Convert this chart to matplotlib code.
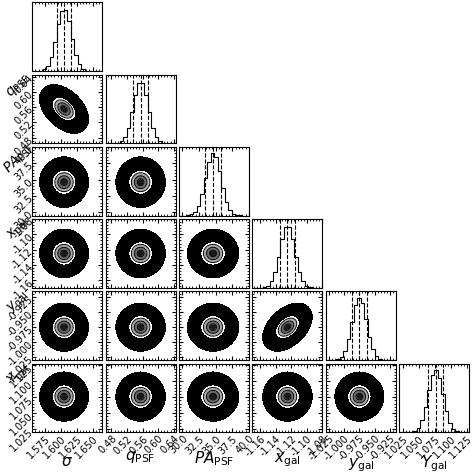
import numpy as np
import matplotlib
matplotlib.use("Agg")
import matplotlib.pyplot as plt
from matplotlib.ticker import AutoMinorLocator

labels = [r"$\sigma$", r"$q_{\rm PSF}$", r"$PA_{\rm PSF}$", r"$x_{\rm gal}$", r"$y_{\rm gal}$", r"$Y_{\rm gal}$"]
means = [1.605, 0.555, 34.6, -1.125, -0.975, 1.076]
stds = [0.0115, 0.019, 1.15, 0.0095, 0.012, 0.0115]
ranges = [(1.555, 1.665), (0.465, 0.645), (29.5, 40.0), (-1.17, -1.08), (-1.03, -0.915), (1.02, 1.128)]
ticks = [
    [1.575, 1.600, 1.625, 1.650],
    [0.48, 0.52, 0.56, 0.60, 0.64],
    [30.0, 32.5, 35.0, 37.5, 40.0],
    [-1.16, -1.14, -1.12, -1.10, -1.08],
    [-1.025, -1.000, -0.975, -0.950, -0.925],
    [1.025, 1.050, 1.075, 1.100, 1.125],
]
tickfmt = ["%.3f", "%.2f", "%.1f", "%.2f", "%.3f", "%.3f"]
# correlation coefficients between parameter pairs
corr = {(0, 1): -0.4, (3, 4): 0.4}

n = len(labels)
fig, axes = plt.subplots(n, n, figsize=(4.74, 4.74), dpi=100)
fig.subplots_adjust(left=0.068, right=0.99, bottom=0.088, top=0.995, wspace=0.05, hspace=0.05)

# contour bands in units of sigma, inner to outer, with fill colours
lv = [0, 0.45, 0.85, 1.25, 1.6, 3.5, 100]
fill_cols = ["#1a1a1a", "#6a6a6a", "#aaaaaa", "white", "black", "white"]

for i in range(n):
    for j in range(n):
        ax = axes[i, j]
        if j > i:
            ax.axis("off")
            continue
        if i == j:
            lo, hi = ranges[i]
            edges = np.linspace(lo, hi, 21)
            c = 0.5 * (edges[1:] + edges[:-1])
            h = np.exp(-0.5 * ((c - means[i]) / stds[i]) ** 2)
            ax.step(edges, np.r_[h, h[-1]], where="post", color="k", lw=0.8)
            for q in (-1, 0, 1):
                ax.axvline(means[i] + q * stds[i], color="k", ls="--", lw=0.8)
            ax.set_ylim(0, 1.1)
            ax.set_yticks([])
            ax.set_xlim(lo, hi)
        else:
            x = np.linspace(*ranges[j], 200)
            y = np.linspace(*ranges[i], 200)
            X, Y = np.meshgrid(x, y)
            r = corr.get((j, i), 0.0)
            u = (X - means[j]) / stds[j]
            v = (Y - means[i]) / stds[i]
            d = np.sqrt((u ** 2 - 2 * r * u * v + v ** 2) / (1 - r ** 2))
            ax.contourf(X, Y, d, levels=lv, colors=fill_cols)
            ax.contour(X, Y, d, levels=[0.45, 0.85, 1.25], colors="k", linewidths=0.7)
            ax.set_xlim(*ranges[j])
            ax.set_ylim(*ranges[i])
            ax.set_yticks(ticks[i])
        ax.set_xticks(ticks[j])
        ax.xaxis.set_minor_locator(AutoMinorLocator(5))
        if i != j:
            ax.yaxis.set_minor_locator(AutoMinorLocator(5))
        ax.tick_params(which="both", direction="in", top=True, right=True, labelsize=7, pad=1)
        ax.tick_params(which="major", length=3)
        ax.tick_params(which="minor", length=1.5)
        if i == n - 1:
            ax.set_xticklabels([tickfmt[j] % t for t in ticks[j]], rotation=45,
                               ha="right", rotation_mode="anchor")
            ax.set_xlabel(labels[j], fontsize=11, labelpad=-5)
        else:
            ax.set_xticklabels([])
        if j == 0 and i > 0:
            ax.set_yticklabels([tickfmt[i] % t for t in ticks[i]], rotation=45,
                               ha="right", rotation_mode="anchor")
            ax.set_ylabel(labels[i], fontsize=10, rotation=45, ha="center", va="center")
            ax.yaxis.set_label_coords(-0.19, 0.84)
        elif i != j:
            ax.set_yticklabels([])

fig.savefig("out.png", dpi=100)
